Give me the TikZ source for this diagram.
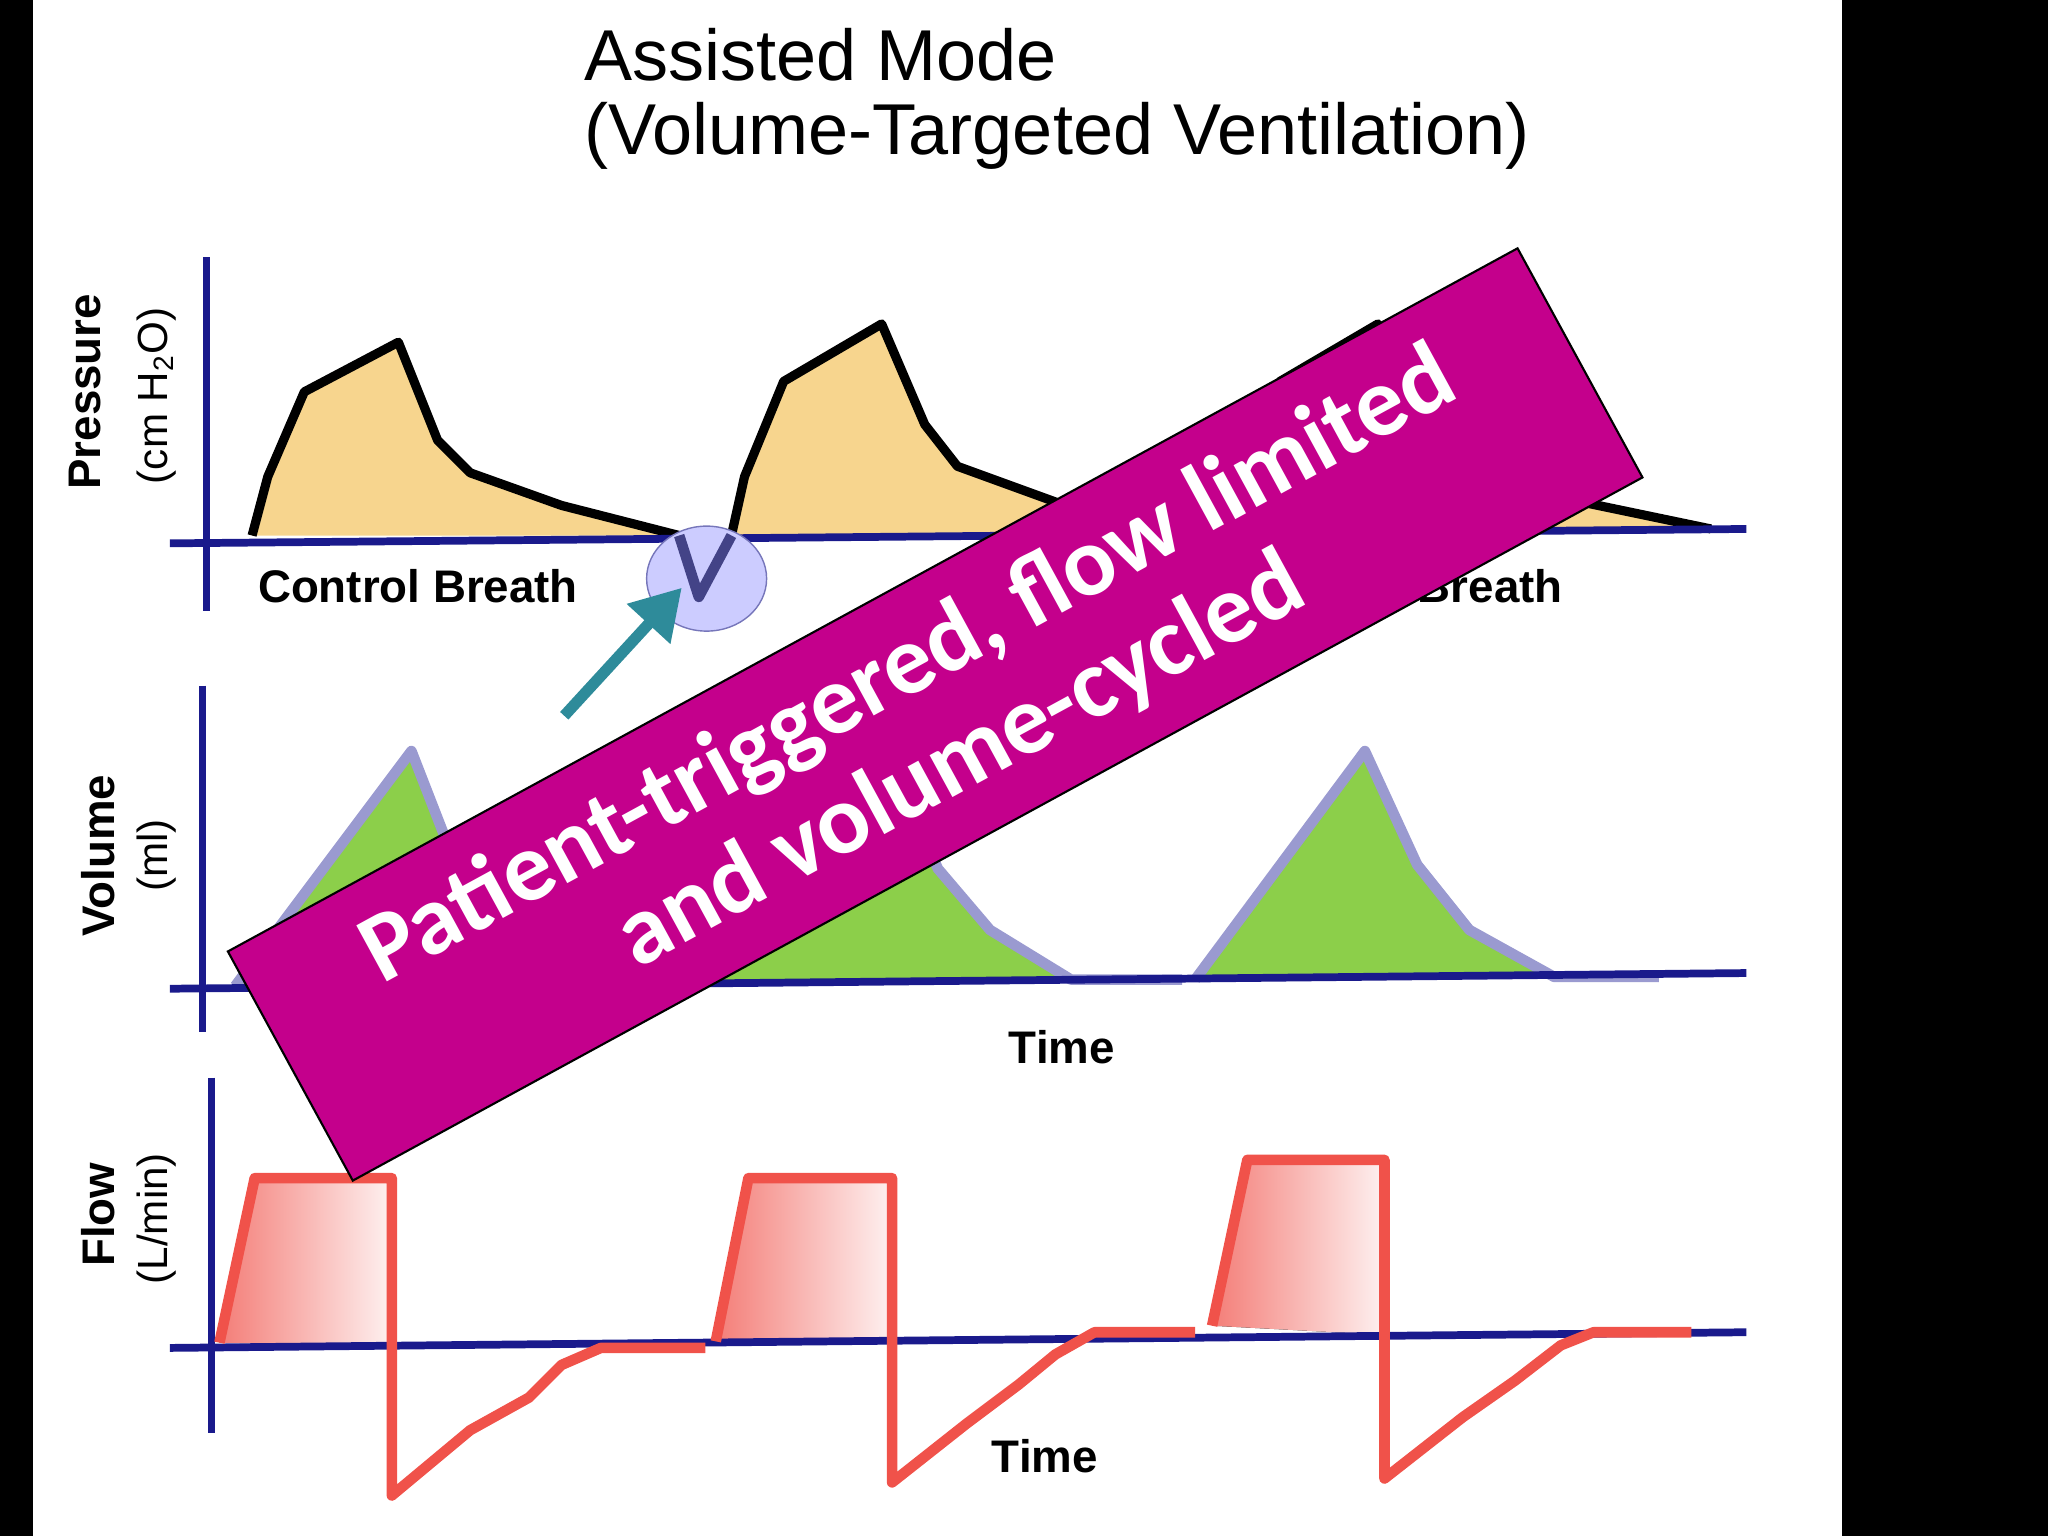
\documentclass[tikz,border=0pt]{standalone}
\usepackage{fontspec}
\setmainfont{Liberation Sans}
\newfontfamily\banfont{Carlito}
\usetikzlibrary{arrows.meta,shapes.geometric}
\definecolor{axisblue}{HTML}{1A1A8C}
\definecolor{pfill}{HTML}{F7D58E}
\definecolor{vfill}{HTML}{8CCF4A}
\definecolor{vline}{HTML}{9A9AD0}
\definecolor{fline}{HTML}{F0524A}
\definecolor{banner}{HTML}{C4008C}
\definecolor{teal}{HTML}{2E8B9A}
\begin{document}
\begin{tikzpicture}[x=0.01306cm,y=-0.01306cm,
  axis/.style={axisblue,line width=2.2pt},
  lab/.style={font=\bfseries\fontsize{13}{14}\selectfont},
  sub/.style={font=\fontsize{12}{13}\selectfont},
  pw/.style={line width=2.6pt,line join=round,fill=pfill},
  vw/.style={vline,line width=3pt,line join=round,fill=vfill},
  fw/.style={fline,line width=3pt,line join=round},
  ff/.style={left color=fline!75,right color=fline!8,draw=none},
  ttl/.style={anchor=west,inner sep=0,font=\fontsize{20.5}{22}\selectfont}]
\useasboundingbox (0,0) rectangle (1568,1176);
\fill[black] (0,0) rectangle (25,1176);
\fill[black] (1410,0) rectangle (1568,1176);
% title
\node[ttl] (t1) at (447,42) {Assisted Mode};
\node[ttl] (t2) at (447,104) {(Volume-Targeted Ventilation)};
% pressure
\path[pw,draw=none] (193,410)--(205,365)--(233,300)--(305,262)--(335,337)--(360,362)--(430,387)--(520,410)--cycle;
\draw[line width=2.6pt,line join=round] (193,410)--(205,365)--(233,300)--(305,262)--(335,337)--(360,362)--(430,387)--(520,410);
\path[pw,draw=none] (560,410)--(570,365)--(600,292)--(675,248)--(708,325)--(733,357)--(810,385)--(900,410)--cycle;
\draw[line width=2.6pt,line join=round] (560,410)--(570,365)--(600,292)--(675,248)--(708,325)--(733,357)--(810,385)--(900,410);
\path[pw,draw=none] (940,410)--(950,365)--(980,292)--(1055,248)--(1088,325)--(1113,357)--(1190,380)--(1310,405)--cycle;
\draw[line width=2.6pt,line join=round] (940,410)--(950,365)--(980,292)--(1055,248)--(1088,325)--(1113,357)--(1190,380)--(1310,405);
\draw[axis] (158,197)--(158,468);
\draw[axis] (130,416)--(1337,405);
\node[draw=axisblue!60,fill=blue!20,ellipse,minimum width=1.2cm,minimum height=1.05cm,inner sep=0] (trig) at (541,443) {};
\draw[axisblue!60!gray,line width=3pt,line join=round] (520,410)--(535,457)--(560,410);
\node[lab] (cb) at (320,449) {Control Breath};
\node[lab,anchor=east] (ab) at (1206,449) {Assisted Breath};
\node[lab,rotate=90] (pl) at (65,300) {Pressure};
\node[sub,rotate=90] (pu) at (120,303) {(cm H\textsubscript{2}O)};
% volume
\draw[vw] (180,755)--(315,575)--(350,665)--(390,712)--(450,752)--(540,752);
\draw[vw] (548,752)--(680,575)--(718,665)--(758,712)--(820,750)--(905,750);
\draw[vw] (915,750)--(1045,575)--(1085,662)--(1125,712)--(1190,748)--(1270,748);
\draw[axis] (155,525)--(155,790);
\draw[axis] (130,757)--(1337,745);
\node[lab,rotate=90] (vl) at (75,655) {Volume};
\node[sub,rotate=90] (vu) at (120,655) {(ml)};
\node[lab] (tm1) at (813,802) {Time};
% flow
\fill[ff] (168,1028)--(195,902)--(300,902)--(300,1030)--cycle;
\fill[ff] (548,1027)--(573,902)--(683,902)--(683,1026)--cycle;
\fill[ff] (928,1015)--(955,888)--(1060,888)--(1060,1022)--cycle;
\draw[axis] (162,825)--(162,1097);
\draw[axis] (130,1032)--(1337,1020);
\draw[fw] (168,1028)--(195,902)--(300,902)--(300,1145)--(360,1095)--(405,1070)--(430,1045)--(460,1032)--(540,1032);
\draw[fw] (548,1027)--(573,902)--(683,902)--(683,1135)--(740,1090)--(780,1060)--(808,1037)--(838,1020)--(915,1020);
\draw[fw] (928,1015)--(955,888)--(1060,888)--(1060,1132)--(1120,1085)--(1160,1057)--(1195,1030)--(1220,1020)--(1295,1020);
\node[lab,rotate=90] (fl) at (75,930) {Flow};
\node[sub,rotate=90] (fu) at (120,933) {(L/min)};
\node[lab] (tm2) at (800,1115) {Time};
% arrow
\coordinate (as) at (432,548);
\draw[teal,line width=3.2pt,-{Triangle[length=14pt,width=16pt]}] (as)--(522,450);
% banner
\node[fill=banner,draw=black,line width=0.6pt,rotate=28.6,minimum width=14.69cm,minimum height=2.61cm,
  align=center,text=white,font=\banfont\bfseries\fontsize{28}{31}\selectfont] (ban) at (716,547)
  {Patient-triggered, flow limited\\and volume-cycled};
\end{tikzpicture}
\end{document}
